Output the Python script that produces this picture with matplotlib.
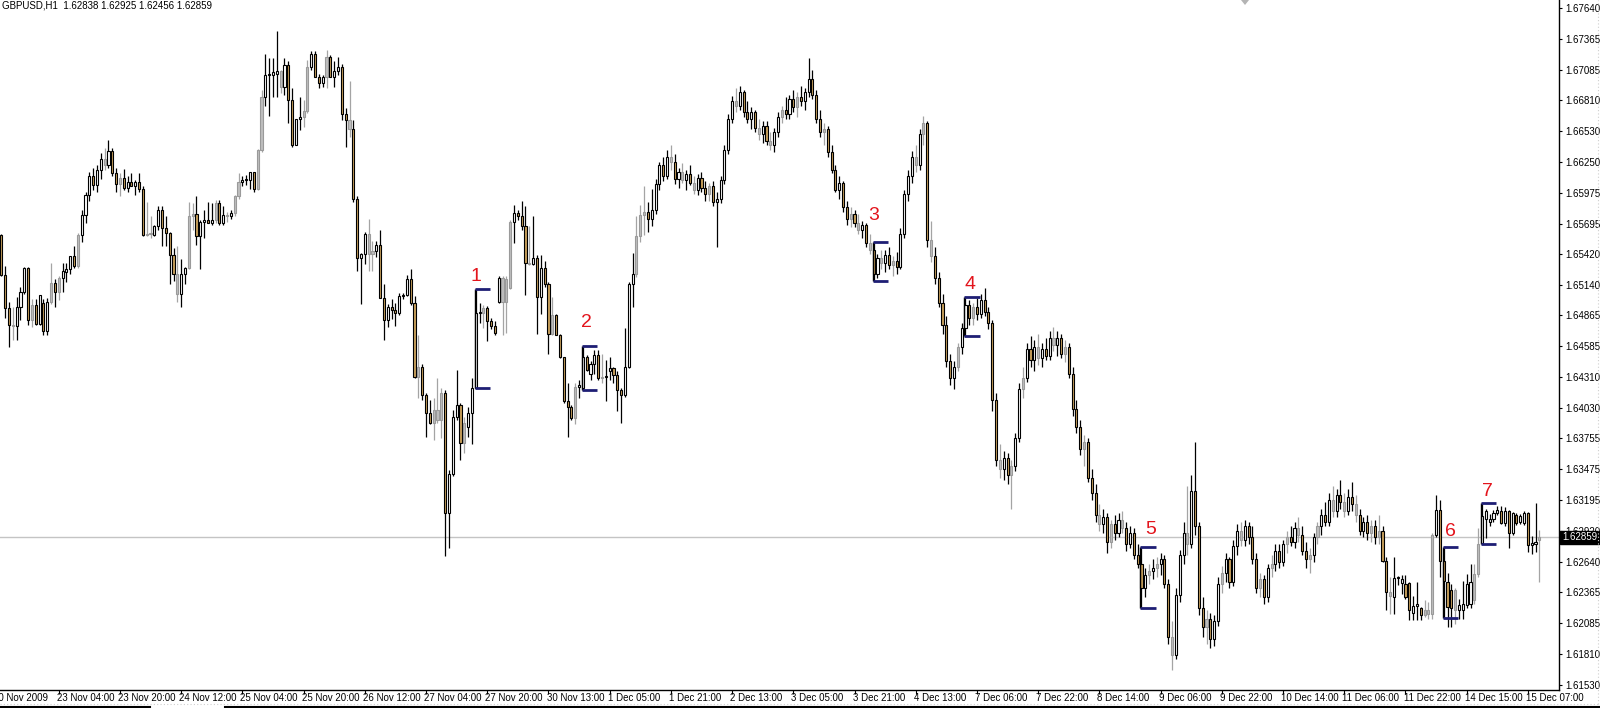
import numpy as np
import matplotlib
matplotlib.use('Agg')
import matplotlib.pyplot as plt
from matplotlib.lines import Line2D
from matplotlib.patches import Polygon

plt.rcParams['font.family'] = ['Liberation Sans', 'DejaVu Sans']

title = 'GBPUSD,H1  1.62838 1.62925 1.62456 1.62859'
last_price = 1.62859

# hourly bars, first visible bar is bar 1
opens = [
    1.6559, 1.6523, 1.6493, 1.6478, 1.6477, 1.6494, 1.6508, 1.6529, 1.6482, 1.6496,
    1.6479, 1.6498, 1.6472, 1.6499, 1.6516, 1.6508, 1.6520, 1.6526, 1.6528, 1.6540,
    1.6531, 1.6559, 1.6577, 1.6595, 1.6612, 1.6604, 1.6618, 1.6628, 1.6622, 1.6635,
    1.6615, 1.6605, 1.6611, 1.6602, 1.6607, 1.6603, 1.6607, 1.6601, 1.6559, 1.6560,
    1.6559, 1.6567, 1.6582, 1.6565, 1.6561, 1.6541, 1.6524, 1.6506, 1.6524, 1.6529,
    1.6576, 1.6578, 1.6558, 1.6571, 1.6573, 1.6570, 1.6573, 1.6588, 1.6570, 1.6577,
    1.6576, 1.6579, 1.6594, 1.6607, 1.6609, 1.6609, 1.6616, 1.6601, 1.6636, 1.6684,
    1.6704, 1.6704, 1.6705, 1.6707, 1.6693, 1.6713, 1.6681, 1.6640, 1.6664, 1.6666,
    1.6671, 1.6711, 1.6723, 1.6702, 1.6696, 1.6702, 1.6720, 1.6702, 1.6707, 1.6711,
    1.6668, 1.6663, 1.6655, 1.6592, 1.6538, 1.6542, 1.6560, 1.6542, 1.6545, 1.6550,
    1.6502, 1.6482, 1.6494, 1.6491, 1.6489, 1.6504, 1.6505, 1.6519, 1.6498, 1.6431,
    1.6440, 1.6415, 1.6398, 1.6389, 1.6401, 1.6392, 1.6416, 1.6308, 1.6343, 1.6395,
    1.6406, 1.6371, 1.6386, 1.6398, 1.6421, 1.6489, 1.6489, 1.6493, 1.6481, 1.6477,
    1.6499, 1.6520, 1.6499, 1.6511, 1.6571, 1.6579, 1.6576, 1.6567, 1.6534, 1.6533,
    1.6538, 1.6503, 1.6529, 1.6515, 1.6470, 1.6487, 1.6469, 1.6449, 1.6409, 1.6404,
    1.6394, 1.6422, 1.6421, 1.6449, 1.6434, 1.6443, 1.6451, 1.6431, 1.6431, 1.6436,
    1.6439, 1.6433, 1.6419, 1.6415, 1.6440, 1.6515, 1.6524, 1.6558, 1.6577, 1.6580,
    1.6574, 1.6582, 1.6605, 1.6622, 1.6612, 1.6630, 1.6625, 1.6610, 1.6616, 1.6609,
    1.6614, 1.6606, 1.6600, 1.6611, 1.6602, 1.6596, 1.6603, 1.6589, 1.6592, 1.6609,
    1.6636, 1.6664, 1.6680, 1.6676, 1.6688, 1.6670, 1.6664, 1.6670, 1.6656, 1.6650,
    1.6658, 1.6644, 1.6640, 1.6652, 1.6666, 1.6672, 1.6668, 1.6682, 1.6675, 1.6684,
    1.6680, 1.6688, 1.6700, 1.6686, 1.6664, 1.6652, 1.6655, 1.6634, 1.6618, 1.6600,
    1.6606, 1.6584, 1.6574, 1.6578, 1.6570, 1.6564, 1.6568, 1.6552, 1.6546, 1.6524,
    1.6538, 1.6534, 1.6541, 1.6532, 1.6536, 1.6530, 1.6560, 1.6596, 1.6612, 1.6630,
    1.6622, 1.6650, 1.6660, 1.6555, 1.6540, 1.6520, 1.6498, 1.6478, 1.6445, 1.6430,
    1.6440, 1.6458, 1.6475, 1.6496, 1.6484, 1.6494, 1.6488, 1.6500, 1.6490, 1.6480,
    1.6410, 1.6356, 1.6348, 1.6358, 1.6342, 1.6350, 1.6376, 1.6420, 1.6430, 1.6456,
    1.6446, 1.6458, 1.6448, 1.6456, 1.6450, 1.6466, 1.6460, 1.6466, 1.6452, 1.6458,
    1.6434, 1.6402, 1.6386, 1.6366, 1.6372, 1.6340, 1.6326, 1.6306, 1.6298, 1.6304,
    1.6282, 1.6298, 1.6290, 1.6302, 1.6294, 1.6280, 1.6290, 1.6270, 1.6262, 1.6240,
    1.6252, 1.6256, 1.6258, 1.6262, 1.6266, 1.6244, 1.6196, 1.6180, 1.6234, 1.6270,
    1.6290, 1.6280, 1.6328, 1.6296, 1.6222, 1.6205, 1.6212, 1.6194, 1.6210, 1.6244,
    1.6254, 1.6266, 1.6246, 1.6278, 1.6292, 1.6284, 1.6296, 1.6286, 1.6266, 1.6240,
    1.6248, 1.6232, 1.6258, 1.6262, 1.6274, 1.6264, 1.6280, 1.6286, 1.6282, 1.6294,
    1.6288, 1.6274, 1.6266, 1.6270, 1.6286, 1.6296, 1.6306, 1.6300, 1.6320, 1.6310,
    1.6324, 1.6318, 1.6310, 1.6322, 1.6316, 1.6306, 1.6292, 1.6300, 1.6290, 1.6296,
    1.6286, 1.6292, 1.6265, 1.6237, 1.6232, 1.6249, 1.6245, 1.6244, 1.6245, 1.6218,
    1.6224, 1.6222, 1.6216, 1.6220, 1.6217, 1.6288, 1.6311, 1.6265, 1.6246, 1.6238,
    1.6220, 1.6220, 1.6220, 1.6225, 1.6226, 1.6229, 1.6253, 1.6281, 1.6303, 1.6300,
    1.6303, 1.6308, 1.6310, 1.6299, 1.6310, 1.6290, 1.6306, 1.6300, 1.6299, 1.6308,
    1.6279, 1.6280, 1.62838,
]
highs = [
    1.6560, 1.6531, 1.6499, 1.6494, 1.6503, 1.6512, 1.6530, 1.6530, 1.6501, 1.6501,
    1.6505, 1.6501, 1.6502, 1.6534, 1.6519, 1.6522, 1.6534, 1.6534, 1.6540, 1.6549,
    1.6561, 1.6582, 1.6598, 1.6616, 1.6620, 1.6622, 1.6633, 1.6638, 1.6645, 1.6638,
    1.6620, 1.6615, 1.6619, 1.6612, 1.6615, 1.6609, 1.6615, 1.6603, 1.6589, 1.6576,
    1.6568, 1.6585, 1.6585, 1.6576, 1.6562, 1.6547, 1.6549, 1.6537, 1.6530, 1.6589,
    1.6588, 1.6594, 1.6573, 1.6582, 1.6589, 1.6588, 1.6591, 1.6591, 1.6585, 1.6580,
    1.6582, 1.6595, 1.6615, 1.6612, 1.6613, 1.6616, 1.6616, 1.6637, 1.6690, 1.6723,
    1.6719, 1.6719, 1.6743, 1.6708, 1.6719, 1.6716, 1.6692, 1.6664, 1.6684, 1.6681,
    1.6717, 1.6725, 1.6725, 1.6705, 1.6704, 1.6726, 1.6722, 1.6716, 1.6720, 1.6714,
    1.6674, 1.6698, 1.6663, 1.6594, 1.6543, 1.6562, 1.6574, 1.6554, 1.6554, 1.6564,
    1.6515, 1.6497, 1.6501, 1.6498, 1.6507, 1.6507, 1.6523, 1.6528, 1.6504, 1.6469,
    1.6443, 1.6416, 1.6410, 1.6412, 1.6430, 1.6421, 1.6419, 1.6347, 1.6401, 1.6437,
    1.6407, 1.6395, 1.6404, 1.6430, 1.6510, 1.6498, 1.6496, 1.6495, 1.6484, 1.6481,
    1.6522, 1.6522, 1.6522, 1.6573, 1.6586, 1.6582, 1.6590, 1.6585, 1.6567, 1.6576,
    1.6541, 1.6541, 1.6536, 1.6517, 1.6503, 1.6488, 1.6470, 1.6449, 1.6425, 1.6406,
    1.6425, 1.6428, 1.6459, 1.6451, 1.6445, 1.6455, 1.6455, 1.6452, 1.6446, 1.6449,
    1.6440, 1.6436, 1.6421, 1.6475, 1.6517, 1.6543, 1.6576, 1.6586, 1.6603, 1.6589,
    1.6601, 1.6610, 1.6625, 1.6630, 1.6636, 1.6640, 1.6632, 1.6620, 1.6624, 1.6618,
    1.6622, 1.6612, 1.6614, 1.6616, 1.6608, 1.6606, 1.6608, 1.6598, 1.6612, 1.6640,
    1.6668, 1.6685, 1.6692, 1.6694, 1.6690, 1.6680, 1.6675, 1.6672, 1.6664, 1.6662,
    1.6662, 1.6652, 1.6656, 1.6670, 1.6676, 1.6684, 1.6686, 1.6690, 1.6688, 1.6694,
    1.6692, 1.6719, 1.6708, 1.6690, 1.6672, 1.6660, 1.6658, 1.6640, 1.6622, 1.6612,
    1.6608, 1.6590, 1.6584, 1.6582, 1.6578, 1.6572, 1.6570, 1.6560, 1.6553, 1.6542,
    1.6546, 1.6546, 1.6548, 1.6540, 1.6544, 1.6565, 1.6600, 1.6618, 1.6635, 1.6640,
    1.6655, 1.6667, 1.6662, 1.6572, 1.6548, 1.6526, 1.6506, 1.6486, 1.6452, 1.6445,
    1.6462, 1.6480, 1.6503, 1.6500, 1.6498, 1.6502, 1.6506, 1.6511, 1.6494, 1.6482,
    1.6416, 1.6370, 1.6364, 1.6362, 1.6356, 1.6380, 1.6425, 1.6440, 1.6462, 1.6468,
    1.6464, 1.6470, 1.6462, 1.6466, 1.6472, 1.6476, 1.6472, 1.6470, 1.6464, 1.6462,
    1.6440, 1.6410, 1.6392, 1.6378, 1.6376, 1.6348, 1.6334, 1.6316, 1.6312, 1.6308,
    1.6302, 1.6306, 1.6308, 1.6310, 1.6300, 1.6296, 1.6294, 1.6280, 1.6277, 1.6258,
    1.6262, 1.6266, 1.6268, 1.6272, 1.6270, 1.6248, 1.6210, 1.6240, 1.6275, 1.6300,
    1.6332, 1.6342, 1.6372, 1.6300, 1.6232, 1.6220, 1.6218, 1.6216, 1.6250, 1.6260,
    1.6272, 1.6268, 1.6284, 1.6298, 1.6300, 1.6302, 1.6300, 1.6296, 1.6272, 1.6254,
    1.6252, 1.6262, 1.6270, 1.6280, 1.6280, 1.6284, 1.6292, 1.6296, 1.6300, 1.6304,
    1.6296, 1.6282, 1.6276, 1.6290, 1.6300, 1.6312, 1.6318, 1.6326, 1.6332, 1.6330,
    1.6338, 1.6326, 1.6330, 1.6336, 1.6324, 1.6312, 1.6304, 1.6306, 1.6302, 1.6302,
    1.6306, 1.6296, 1.6268, 1.6250, 1.6268, 1.6251, 1.6252, 1.6252, 1.6246, 1.6233,
    1.6246, 1.6223, 1.6229, 1.6228, 1.6290, 1.6324, 1.6320, 1.6277, 1.6254, 1.6244,
    1.6240, 1.6230, 1.6247, 1.6253, 1.6262, 1.6262, 1.6294, 1.6317, 1.6312, 1.6307,
    1.6311, 1.6314, 1.6314, 1.6313, 1.6311, 1.6309, 1.6308, 1.6307, 1.6310, 1.6309,
    1.6287, 1.6317, 1.62925,
]
lows = [
    1.6522, 1.6484, 1.6458, 1.6464, 1.6464, 1.6482, 1.6506, 1.6478, 1.6476, 1.6478,
    1.6478, 1.6469, 1.6469, 1.6497, 1.6494, 1.6500, 1.6508, 1.6517, 1.6524, 1.6529,
    1.6529, 1.6553, 1.6570, 1.6590, 1.6600, 1.6598, 1.6610, 1.6618, 1.6620, 1.6612,
    1.6598, 1.6594, 1.6600, 1.6598, 1.6603, 1.6595, 1.6598, 1.6558, 1.6558, 1.6556,
    1.6558, 1.6564, 1.6549, 1.6549, 1.6515, 1.6518, 1.6499, 1.6494, 1.6515, 1.6528,
    1.6564, 1.6550, 1.6528, 1.6556, 1.6570, 1.6568, 1.6570, 1.6568, 1.6568, 1.6571,
    1.6574, 1.6576, 1.6592, 1.6603, 1.6604, 1.6601, 1.6598, 1.6600, 1.6634, 1.6676,
    1.6667, 1.6684, 1.6684, 1.6687, 1.6686, 1.6660, 1.6639, 1.6640, 1.6654, 1.6657,
    1.6669, 1.6708, 1.6702, 1.6692, 1.6693, 1.6692, 1.6702, 1.6693, 1.6704, 1.6663,
    1.6639, 1.6648, 1.6589, 1.6527, 1.6497, 1.6533, 1.6527, 1.6527, 1.6539, 1.6502,
    1.6464, 1.6476, 1.6483, 1.6477, 1.6487, 1.6501, 1.6504, 1.6496, 1.6430, 1.6412,
    1.6410, 1.6377, 1.6388, 1.6374, 1.6389, 1.6376, 1.6269, 1.6276, 1.6341, 1.6392,
    1.6356, 1.6362, 1.6377, 1.6370, 1.6421, 1.6480, 1.6475, 1.6463, 1.6474, 1.6469,
    1.6498, 1.6469, 1.6471, 1.6510, 1.6552, 1.6573, 1.6564, 1.6505, 1.6532, 1.6532,
    1.6470, 1.6488, 1.6512, 1.6452, 1.6469, 1.6469, 1.6448, 1.6407, 1.6377, 1.6392,
    1.6388, 1.6412, 1.6419, 1.6436, 1.6428, 1.6434, 1.6428, 1.6425, 1.6409, 1.6428,
    1.6425, 1.6400, 1.6389, 1.6413, 1.6439, 1.6494, 1.6521, 1.6553, 1.6559, 1.6562,
    1.6567, 1.6578, 1.6600, 1.6608, 1.6610, 1.6618, 1.6605, 1.6602, 1.6606, 1.6600,
    1.6604, 1.6596, 1.6595, 1.6598, 1.6590, 1.6590, 1.6585, 1.6548, 1.6588, 1.6605,
    1.6632, 1.6660, 1.6670, 1.6672, 1.6666, 1.6660, 1.6655, 1.6652, 1.6645, 1.6642,
    1.6640, 1.6636, 1.6634, 1.6648, 1.6660, 1.6664, 1.6664, 1.6670, 1.6666, 1.6676,
    1.6672, 1.6684, 1.6682, 1.6660, 1.6648, 1.6640, 1.6630, 1.6615, 1.6598, 1.6592,
    1.6580, 1.6568, 1.6566, 1.6566, 1.6560, 1.6556, 1.6548, 1.6542, 1.6518, 1.6520,
    1.6528, 1.6526, 1.6528, 1.6522, 1.6524, 1.6528, 1.6556, 1.6590, 1.6606, 1.6616,
    1.6618, 1.6640, 1.6548, 1.6535, 1.6515, 1.6494, 1.6470, 1.6440, 1.6424, 1.6420,
    1.6436, 1.6452, 1.6468, 1.6478, 1.6478, 1.6482, 1.6484, 1.6486, 1.6474, 1.6400,
    1.6350, 1.6340, 1.6338, 1.6334, 1.6312, 1.6346, 1.6372, 1.6412, 1.6426, 1.6440,
    1.6436, 1.6442, 1.6440, 1.6446, 1.6446, 1.6454, 1.6450, 1.6448, 1.6444, 1.6430,
    1.6396, 1.6380, 1.6360, 1.6350, 1.6336, 1.6320, 1.6300, 1.6292, 1.6290, 1.6272,
    1.6276, 1.6284, 1.6286, 1.6290, 1.6274, 1.6276, 1.6266, 1.6258, 1.6222, 1.6232,
    1.6244, 1.6248, 1.6250, 1.6252, 1.6240, 1.6190, 1.6166, 1.6176, 1.6228, 1.6262,
    1.6270, 1.6276, 1.6288, 1.6216, 1.6196, 1.6190, 1.6186, 1.6188, 1.6206, 1.6236,
    1.6246, 1.6240, 1.6242, 1.6270, 1.6278, 1.6278, 1.6280, 1.6262, 1.6236, 1.6232,
    1.6226, 1.6228, 1.6250, 1.6256, 1.6258, 1.6260, 1.6272, 1.6278, 1.6276, 1.6282,
    1.6270, 1.6258, 1.6254, 1.6264, 1.6280, 1.6288, 1.6296, 1.6296, 1.6304, 1.6304,
    1.6312, 1.6304, 1.6306, 1.6310, 1.6300, 1.6288, 1.6286, 1.6284, 1.6282, 1.6280,
    1.6280, 1.6264, 1.6220, 1.6217, 1.6217, 1.6243, 1.6235, 1.6230, 1.6211, 1.6211,
    1.6211, 1.6211, 1.6214, 1.6212, 1.6212, 1.6286, 1.6250, 1.6213, 1.6205, 1.6205,
    1.6208, 1.6212, 1.6212, 1.6222, 1.6222, 1.6226, 1.6250, 1.6280, 1.6285, 1.6296,
    1.6300, 1.6306, 1.6298, 1.6296, 1.6276, 1.6288, 1.6297, 1.6298, 1.6297, 1.6273,
    1.6271, 1.6273, 1.62456,
]
closes = [
    1.6523, 1.6493, 1.6478, 1.6477, 1.6494, 1.6508, 1.6529, 1.6482, 1.6496, 1.6479,
    1.6505, 1.6472, 1.6499, 1.6516, 1.6508, 1.6520, 1.6527, 1.6528, 1.6540, 1.6531,
    1.6559, 1.6577, 1.6595, 1.6612, 1.6604, 1.6618, 1.6628, 1.6622, 1.6635, 1.6615,
    1.6605, 1.6611, 1.6602, 1.6607, 1.6603, 1.6607, 1.6601, 1.6559, 1.6560, 1.6561,
    1.6567, 1.6582, 1.6565, 1.6561, 1.6541, 1.6524, 1.6506, 1.6524, 1.6529, 1.6576,
    1.6578, 1.6558, 1.6571, 1.6573, 1.6570, 1.6573, 1.6588, 1.6570, 1.6577, 1.6576,
    1.6579, 1.6594, 1.6607, 1.6609, 1.6610, 1.6616, 1.6601, 1.6636, 1.6684, 1.6704,
    1.6705, 1.6706, 1.6707, 1.6693, 1.6713, 1.6681, 1.6640, 1.6664, 1.6666, 1.6671,
    1.6711, 1.6723, 1.6702, 1.6696, 1.6702, 1.6720, 1.6702, 1.6707, 1.6711, 1.6668,
    1.6663, 1.6655, 1.6592, 1.6538, 1.6542, 1.6560, 1.6542, 1.6545, 1.6550, 1.6502,
    1.6482, 1.6494, 1.6491, 1.6489, 1.6504, 1.6505, 1.6519, 1.6498, 1.6431, 1.6440,
    1.6415, 1.6398, 1.6389, 1.6401, 1.6392, 1.6416, 1.6308, 1.6343, 1.6395, 1.6406,
    1.6371, 1.6389, 1.6398, 1.6421, 1.6489, 1.6489, 1.6493, 1.6481, 1.6477, 1.6471,
    1.6520, 1.6499, 1.6519, 1.6571, 1.6579, 1.6576, 1.6567, 1.6534, 1.6533, 1.6538,
    1.6503, 1.6529, 1.6515, 1.6470, 1.6487, 1.6469, 1.6449, 1.6409, 1.6404, 1.6394,
    1.6422, 1.6424, 1.6449, 1.6437, 1.6443, 1.6451, 1.6430, 1.6430, 1.6432, 1.6439,
    1.6433, 1.6419, 1.6415, 1.6440, 1.6515, 1.6524, 1.6558, 1.6577, 1.6580, 1.6574,
    1.6582, 1.6605, 1.6622, 1.6612, 1.6630, 1.6625, 1.6610, 1.6616, 1.6609, 1.6614,
    1.6606, 1.6600, 1.6611, 1.6602, 1.6596, 1.6603, 1.6589, 1.6592, 1.6609, 1.6636,
    1.6664, 1.6680, 1.6676, 1.6688, 1.6670, 1.6664, 1.6670, 1.6656, 1.6650, 1.6658,
    1.6644, 1.6640, 1.6652, 1.6666, 1.6672, 1.6668, 1.6682, 1.6675, 1.6684, 1.6680,
    1.6688, 1.6700, 1.6686, 1.6664, 1.6652, 1.6655, 1.6634, 1.6618, 1.6600, 1.6606,
    1.6584, 1.6574, 1.6578, 1.6570, 1.6564, 1.6568, 1.6552, 1.6546, 1.6524, 1.6538,
    1.6534, 1.6541, 1.6532, 1.6536, 1.6530, 1.6560, 1.6596, 1.6612, 1.6630, 1.6622,
    1.6650, 1.6660, 1.6555, 1.6540, 1.6520, 1.6498, 1.6478, 1.6445, 1.6430, 1.6440,
    1.6458, 1.6475, 1.6496, 1.6484, 1.6494, 1.6488, 1.6500, 1.6490, 1.6480, 1.6410,
    1.6356, 1.6348, 1.6358, 1.6342, 1.6350, 1.6376, 1.6420, 1.6430, 1.6456, 1.6446,
    1.6458, 1.6448, 1.6456, 1.6450, 1.6466, 1.6460, 1.6466, 1.6452, 1.6458, 1.6434,
    1.6402, 1.6386, 1.6366, 1.6372, 1.6340, 1.6326, 1.6306, 1.6298, 1.6304, 1.6282,
    1.6298, 1.6290, 1.6302, 1.6294, 1.6280, 1.6290, 1.6270, 1.6262, 1.6240, 1.6252,
    1.6256, 1.6258, 1.6262, 1.6266, 1.6244, 1.6196, 1.6180, 1.6234, 1.6270, 1.6290,
    1.6280, 1.6328, 1.6296, 1.6222, 1.6205, 1.6212, 1.6194, 1.6210, 1.6244, 1.6254,
    1.6266, 1.6246, 1.6278, 1.6292, 1.6284, 1.6296, 1.6286, 1.6266, 1.6240, 1.6248,
    1.6232, 1.6258, 1.6262, 1.6274, 1.6264, 1.6280, 1.6286, 1.6282, 1.6294, 1.6288,
    1.6274, 1.6266, 1.6270, 1.6286, 1.6296, 1.6306, 1.6300, 1.6320, 1.6310, 1.6324,
    1.6318, 1.6310, 1.6322, 1.6316, 1.6306, 1.6292, 1.6300, 1.6290, 1.6296, 1.6286,
    1.6292, 1.6265, 1.6237, 1.6233, 1.6249, 1.6250, 1.6248, 1.6232, 1.6220, 1.6224,
    1.6226, 1.6216, 1.6220, 1.6217, 1.6288, 1.6311, 1.6265, 1.6247, 1.6223, 1.6222,
    1.6238, 1.6225, 1.6226, 1.6244, 1.6246, 1.6253, 1.6280, 1.6305, 1.6310, 1.6303,
    1.6308, 1.6311, 1.6299, 1.6310, 1.6290, 1.6308, 1.6299, 1.6305, 1.6308, 1.6279,
    1.6281, 1.6282, 1.62859,
]
# bars drawn in grey on the reference
grey_bars = [4, 9, 14, 16, 21, 28, 32, 39, 40, 47, 50, 51, 57, 60, 62, 63, 68, 69,
             74, 80, 81, 86, 92, 97, 98, 110, 114, 115, 116, 122, 127, 132, 133, 134,
             139, 145, 151, 158, 167, 168, 169, 176, 179, 182, 186, 193, 199, 202, 205,
             209, 216, 223, 225, 228, 231, 234, 240, 242, 244, 251, 255, 262, 265, 268,
             272, 276, 279, 284, 288, 291, 294, 301, 303, 307, 311, 316, 320, 325, 330,
             333, 337, 340, 343, 345, 349, 352, 355, 359, 361, 364, 373, 374, 375, 381,
             386, 387, 403]

# marked bars (numbered 1..7)
marked_bars = [125, 153, 229, 253, 299, 378, 388]

price_ticks = [1.61530, 1.61810, 1.62085, 1.62365, 1.62640, 1.62920, 1.63195, 1.63475,
               1.63755, 1.64030, 1.64310, 1.64585, 1.64865, 1.65140, 1.65420, 1.65695,
               1.65975, 1.66250, 1.66530, 1.66810, 1.67085, 1.67365, 1.67640]
date_labels = ['20 Nov 2009', '23 Nov 04:00', '23 Nov 20:00', '24 Nov 12:00', '25 Nov 04:00',
               '25 Nov 20:00', '26 Nov 12:00', '27 Nov 04:00', '27 Nov 20:00', '30 Nov 13:00',
               '1 Dec 05:00', '1 Dec 21:00', '2 Dec 13:00', '3 Dec 05:00', '3 Dec 21:00',
               '4 Dec 13:00', '7 Dec 06:00', '7 Dec 22:00', '8 Dec 14:00', '9 Dec 06:00',
               '9 Dec 22:00', '10 Dec 14:00', '11 Dec 06:00', '11 Dec 22:00', '14 Dec 15:00',
               '15 Dec 07:00']
bars_per_label = 16

assert len(opens) == len(highs) == len(lows) == len(closes)

o = np.array(opens)
h = np.array(highs)
l = np.array(lows)
c = np.array(closes)
x = np.arange(1, len(c) + 1)
grey = np.isin(x, grey_bars)

TAN = '#C9A05C'
face = np.where(grey, '#BEBEBE', np.where(c >= o, 'white', TAN))
edge = np.where(grey, '#9A9A9A', 'black')

fig = plt.figure(figsize=(16, 7.08), dpi=100)
ax = fig.add_axes([0, 18 / 708, 1559 / 1600, 690 / 708])
ax.set_xlim(0.65, 408.13)
ax.set_ylim(1.61481, 1.67714)

ax.axhline(last_price, color='#C4C4C4', lw=1, zorder=1)

ax.vlines(x[~grey], l[~grey], h[~grey], color='black', lw=0.9, zorder=2)
ax.vlines(x[grey], l[grey], h[grey], color='#A4A4A4', lw=0.9, zorder=2)
ax.bar(x, np.maximum(np.abs(c - o), 0.00005), bottom=np.minimum(o, c), width=0.55,
       color=face, edgecolor=edge, linewidth=0.8, zorder=3)

# brackets with numbers
label_offsets = [(1, 13), (5, 23), (1, 26), (6, 13), (10, 18), (8, 16), (7, 12)]
for k, b in enumerate(marked_bars):
    top, bot = h[b - 1], l[b - 1]
    x0 = b - 0.3
    ax.vlines(x0, bot, top, color='black', lw=1, zorder=4)
    ax.hlines([top, bot], x0, x0 + 4, color='#1E1E74', lw=2, zorder=4)
    ax.annotate(str(k + 1), (x0, top), xytext=label_offsets[k], textcoords='offset pixels',
                color='#E3141C', fontsize=14, ha='center', va='center', zorder=5)

for side in ['left', 'top']:
    ax.spines[side].set_visible(False)
for side in ['right', 'bottom']:
    ax.spines[side].set_color('black')
    ax.spines[side].set_linewidth(1)

ax.yaxis.tick_right()
ax.set_yticks(price_ticks)
ax.set_yticklabels([f'{p:.5f}' for p in price_ticks])
ax.tick_params(axis='y', direction='out', length=2.2, width=0.8, pad=2.2, labelsize=7)

tick_bars = [bars_per_label * k for k in range(len(date_labels))]
ax.set_xticks(tick_bars[1:])
ax.set_xticklabels([])
ax.tick_params(axis='x', direction='out', length=2.9, width=0.8)
for b, lab in zip(tick_bars, date_labels):
    shift = 1.3 if b == 0 else 0.5
    ax.text(b - shift, -8 / 690, lab, transform=ax.get_xaxis_transform(), ha='left',
            va='center', fontsize=7, clip_on=False)

ax.text(1 + 3 / 1559, last_price, f'{last_price:.5f}', transform=ax.get_yaxis_transform(),
        ha='left', va='center', color='white', fontsize=7, clip_on=False, zorder=10,
        bbox=dict(boxstyle='square,pad=0.2', fc='black', ec='black'))

fig.text(2 / 1600, 1 - 6 / 708, title, fontsize=7, ha='left', va='center')

# window decorations
fig.add_artist(Line2D([0, 150 / 1600], [1 / 708, 1 / 708], color='black', lw=1.5))
fig.add_artist(Line2D([225 / 1600, 1], [1 / 708, 1 / 708], color='black', lw=1.5))
fig.add_artist(Line2D([0, 1], [4 / 708, 4 / 708], color='#CFCFCF', lw=0.8, ls=(0, (1, 2))))
fig.add_artist(Line2D([1598 / 1600, 1598 / 1600], [4 / 708, 1], color='#CFCFCF', lw=0.8,
                      ls=(0, (1, 2))))
fig.add_artist(Polygon([(1241 / 1600, 1), (1249 / 1600, 1), (1245 / 1600, 1 - 5 / 708)],
                       closed=True, fc='#B4B4B4', ec='none', transform=fig.transFigure))

fig.savefig('out.png', dpi=100, facecolor='white')
